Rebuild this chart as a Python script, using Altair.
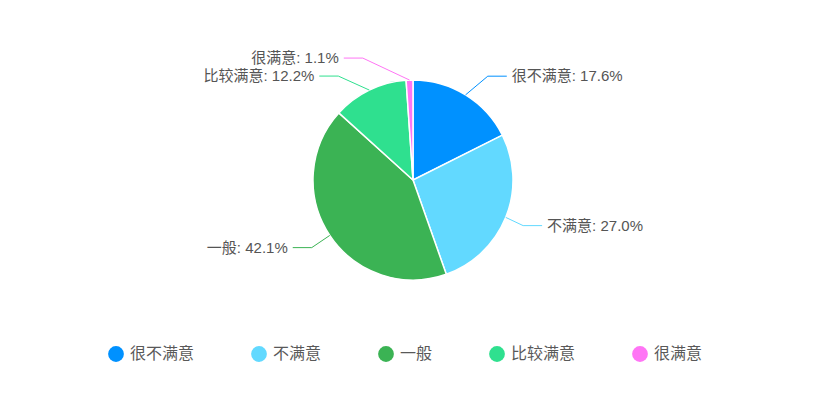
import altair as alt
import pandas as pd

categories = ["很不满意", "不满意", "一般", "比较满意", "很满意"]
values = [17.6, 27.0, 42.1, 12.2, 1.1]
colors = ["#0091FF", "#62D9FF", "#3BB354", "#2FE08F", "#FF75F5"]

df = pd.DataFrame({"category": categories, "value": values,
                   "order": list(range(len(categories)))})

FONT = "Liberation Sans, Noto Sans CJK SC"
LEGEND_FONT = "Noto Sans CJK SC"
W, H = 810, 344
R = 100      # pie radius
LR = 122     # radius used for label height
EA, EB = 117, 135   # ellipse for elbow x
SEG = 19     # horizontal leader length
GAP = 5      # gap between leader and text
MINSEP = 18  # min vertical separation of labels

color = alt.Color(
    "category:N",
    scale=alt.Scale(domain=categories, range=colors),
    legend=alt.Legend(
        title=None, orient="none", legendX=100, legendY=338,
        direction="horizontal", symbolType="circle", symbolSize=250,
        symbolStrokeWidth=0, symbolOpacity=1, labelFontSize=16,
        labelFont=LEGEND_FONT, labelColor="#595959", labelOffset=6,
        columnPadding=56, padding=0, labelLimit=300,
    ),
)

xs = alt.Scale(domain=[-W / 2, W / 2], nice=False, zero=False)
ys = alt.Scale(domain=[-H / 2, H / 2], nice=False, zero=False)

base = alt.Chart(df)

pie = base.mark_arc(radius=R, stroke="white", strokeWidth=1.5).encode(
    theta=alt.Theta("value:Q", stack=True),
    order=alt.Order("order:Q"),
    color=color,
)

geo = (
    base.transform_joinaggregate(total="sum(value)")
    .transform_window(window=[alt.WindowFieldDef(op="sum", field="value", **{"as": "cum"})],
                      sort=[alt.SortField("order")], frame=[None, 0])
    .transform_calculate(mid="(datum.cum - datum.value / 2) / datum.total * 2 * PI")
    .transform_calculate(
        ax=f"{R} * sin(datum.mid)",
        ay=f"{R} * cos(datum.mid)",
        side="sin(datum.mid) >= 0 ? 1 : -1",
        ly=f"{LR} * cos(datum.mid)",
    )
    .transform_window(window=[alt.WindowFieldDef(op="lag", field="ly", **{"as": "prev"})],
                      groupby=["side"], sort=[alt.SortField("ly", order="descending")])
    .transform_calculate(
        ly2=f"datum.prev != null && datum.prev - datum.ly < {MINSEP} ? datum.prev - {MINSEP} : datum.ly")
    .transform_calculate(
        ex=f"datum.side * {EA} * sqrt(max(1 - datum.ly2 * datum.ly2 / {EB * EB}, 0))")
    .transform_calculate(
        ex2=f"datum.ex + datum.side * {SEG}",
        tx=f"datum.ex + datum.side * {SEG + GAP}",
        label="datum.category + ': ' + format(datum.value, '.1f') + '%'",
    )
)

seg1 = geo.mark_rule(strokeWidth=1).encode(
    x=alt.X("ax:Q", scale=xs, axis=None), y=alt.Y("ay:Q", scale=ys, axis=None),
    x2="ex:Q", y2="ly2:Q", color=color,
)
seg2 = geo.mark_rule(strokeWidth=1).encode(
    x=alt.X("ex:Q", scale=xs, axis=None), y=alt.Y("ly2:Q", scale=ys, axis=None),
    x2="ex2:Q", color=color,
)
textR = geo.transform_filter("datum.side > 0").mark_text(
    align="left", baseline="middle", fontSize=15, font=FONT, color="#555555"
).encode(x=alt.X("tx:Q", scale=xs, axis=None), y=alt.Y("ly2:Q", scale=ys, axis=None), text="label:N")
textL = geo.transform_filter("datum.side < 0").mark_text(
    align="right", baseline="middle", fontSize=15, font=FONT, color="#555555"
).encode(x=alt.X("tx:Q", scale=xs, axis=None), y=alt.Y("ly2:Q", scale=ys, axis=None), text="label:N")

chart = (
    alt.layer(pie, seg1, seg2, textR, textL)
    .properties(width=W, height=H,
                padding={"left": 0, "top": 0, "right": 0, "bottom": 30},
                background="white")
    .configure_view(stroke=None)
)

chart.save("out.html", embed_options={"renderer": "svg", "actions": False})
